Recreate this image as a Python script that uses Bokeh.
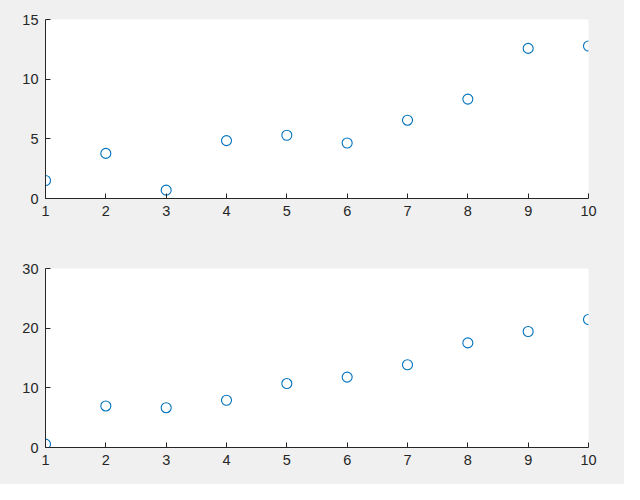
from bokeh.plotting import figure
from bokeh.layouts import column
from bokeh.models import Range1d, FixedTicker
from bokeh.embed import file_html
from bokeh.resources import INLINE

x = [1, 2, 3, 4, 5, 6, 7, 8, 9, 10]
y_top = [1.51, 3.78, 0.70, 4.85, 5.30, 4.65, 6.56, 8.33, 12.58, 12.78]
y_bottom = [0.56, 6.96, 6.67, 7.92, 10.72, 11.80, 13.87, 17.53, 19.44, 21.45]
x_ticks = [1, 2, 3, 4, 5, 6, 7, 8, 9, 10]
top_ticks = [0, 5, 10, 15]
bottom_ticks = [0, 10, 20, 30]

BG = "#f0f0f0"
AX = "#262626"
MARK = "#0072BD"
FONT = "Liberation Sans"


def make(yvals, yticks, ymax, border_top, border_bottom, h):
    p = figure(width=624, height=h, output_backend="svg", toolbar_location=None,
               x_range=Range1d(1, 10), y_range=Range1d(0, ymax),
               min_border_left=45, min_border_right=36,
               min_border_top=border_top, min_border_bottom=border_bottom)
    p.border_fill_color = BG
    p.background_fill_color = "white"
    p.outline_line_color = None
    p.grid.visible = False
    p.scatter(x, yvals, marker="circle", size=10, fill_color=None,
              line_color=MARK, line_width=1.1)
    for ax, ticks in ((p.xaxis[0], x_ticks), (p.yaxis[0], yticks)):
        ax.ticker = FixedTicker(ticks=ticks)
        ax.axis_line_color = AX
        ax.major_tick_line_color = AX
        ax.major_tick_in = 5
        ax.major_tick_out = 0
        ax.minor_tick_line_color = None
        ax.major_label_text_color = AX
        ax.major_label_text_font = FONT
        ax.major_label_text_font_size = "14.5px"
        ax.major_label_standoff = 7
    return p


p1 = make(y_top, top_ticks, 15, 19, 44, 242)
p2 = make(y_bottom, bottom_ticks, 30, 26, 37, 242)
layout = column(p1, p2, spacing=0, styles={"background-color": BG})

open("out.html", "w").write(file_html(layout, INLINE))
